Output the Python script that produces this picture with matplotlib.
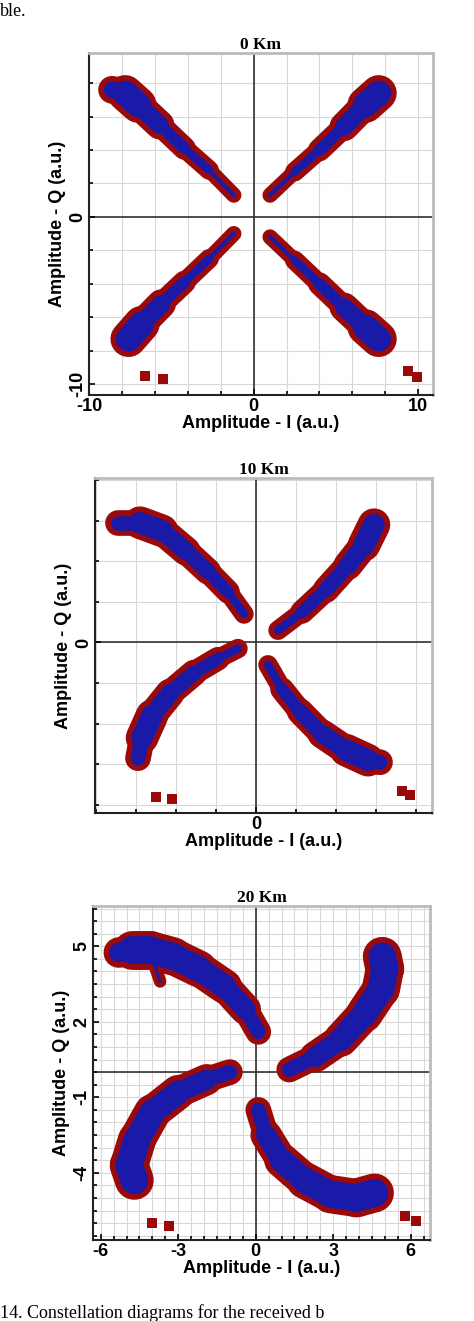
import matplotlib
matplotlib.use("Agg")
import matplotlib.pyplot as plt
import numpy as np

RED = "#9b0a0a"
BLUE = "#1a1aa8"

# ---- Panel 1 (0 Km) arm centerlines ----
p1_ur_x = [1.0, 2.5, 4.0, 5.5, 6.8, 7.6]
p1_ur_y = [1.3, 2.7, 4.0, 5.4, 6.7, 7.4]
p1_ul_x = [-1.2, -2.7, -4.2, -5.7, -7.0, -7.8, -8.6]
p1_ul_y = [1.3, 2.8, 4.1, 5.5, 6.7, 7.4, 7.6]
p1_ll_x = [-1.2, -2.7, -4.2, -5.6, -6.8, -7.6]
p1_ll_y = [-1.0, -2.5, -3.9, -5.2, -6.4, -7.3]
p1_lr_x = [1.0, 2.5, 4.0, 5.5, 6.8, 7.6]
p1_lr_y = [-1.2, -2.6, -4.0, -5.4, -6.6, -7.3]
p1_w = [9, 13, 15, 18, 24, 28, 12]
p1_out_x = [-6.6, -5.5, 9.4, 9.9]
p1_out_y = [-9.5, -9.7, -9.2, -9.6]

# ---- Panel 2 (10 Km) ----
p2_ur_x = [1.1, 2.3, 3.5, 4.6, 5.4, 5.9]
p2_ur_y = [0.6, 1.5, 2.6, 3.8, 4.8, 5.8]
p2_ul_x = [-0.6, -1.4, -2.4, -3.5, -4.7, -5.8, -6.9]
p2_ul_y = [1.4, 2.5, 3.5, 4.5, 5.5, 5.9, 5.9]
p2_ll_x = [-0.9, -1.9, -3.1, -4.3, -5.2, -5.7, -5.9]
p2_ll_y = [-0.3, -0.8, -1.5, -2.5, -3.6, -4.7, -5.7]
p2_lr_x = [0.6, 1.3, 2.2, 3.3, 4.5, 5.6, 6.2]
p2_lr_y = [-1.1, -2.3, -3.4, -4.5, -5.3, -5.8, -5.9]
p2_w = [12, 16, 18, 20, 22, 25, 12]
p2_out_x = [-5.0, -4.2, 7.3, 7.7]
p2_out_y = [-7.6, -7.7, -7.3, -7.5]

# ---- Panel 3 (20 Km) ----
p3_ur_x = [1.3, 2.3, 3.3, 4.2, 4.85, 5.0, 4.9]
p3_ur_y = [0.1, 0.6, 1.3, 2.3, 3.3, 4.1, 4.6]
p3_ul_x = [0.1, -0.4, -1.2, -2.2, -3.2, -4.1, -4.8, -5.3]
p3_ul_y = [1.6, 2.5, 3.4, 4.1, 4.6, 4.85, 4.85, 4.75]
p3_ll_x = [-1.0, -1.9, -3.0, -4.0, -4.6, -4.9, -4.7]
p3_ll_y = [0.0, -0.3, -0.8, -1.6, -2.7, -3.7, -4.3]
p3_lr_x = [0.1, 0.4, 1.0, 1.9, 2.9, 3.9, 4.6]
p3_lr_y = [-1.5, -2.5, -3.5, -4.3, -4.85, -5.0, -4.8]
p3_w = [16, 21, 24, 26, 27, 28, 28, 16]
p3_spur_x = [-4.0, -3.7]
p3_spur_y = [4.5, 3.6]
p3_out_x = [-4.0, -3.35, 5.8, 6.2]
p3_out_y = [-6.0, -6.1, -5.7, -5.9]

W, H = 474, 1321
fig = plt.figure(figsize=(W/100, H/100), dpi=100)

def arm(ax, xs, ys, ws):
    for col, shrink, z in ((RED, 0, 3), (BLUE, 8, 4)):
        for i in range(len(xs)-1):
            w = max((ws[i] + ws[i+1]) / 2 - shrink, 2)
            ax.plot(xs[i:i+2], ys[i:i+2], color=col, lw=w,
                    solid_capstyle="round", zorder=z)

def panel(rect, title, xlim, ylim, arms, ws, ox, oy, grid_step, major_step,
          xt, yt, extra=None):
    ax = fig.add_axes(rect)
    ax.set_xlim(*xlim); ax.set_ylim(*ylim)
    gx = np.arange(np.ceil(xlim[0]/grid_step)*grid_step, xlim[1], grid_step)
    gy = np.arange(np.ceil(ylim[0]/grid_step)*grid_step, ylim[1], grid_step)
    for g in gx:
        ax.axvline(g, color="#d8d8d8", lw=0.8, zorder=0)
    for g in gy:
        ax.axhline(g, color="#d8d8d8", lw=0.8, zorder=0)
    ax.axhline(0, color="#333333", lw=1.2, zorder=1)
    ax.axvline(0, color="#333333", lw=1.2, zorder=1)
    mx = np.arange(np.ceil(xlim[0]/major_step)*major_step, xlim[1], major_step)
    my = np.arange(np.ceil(ylim[0]/major_step)*major_step, ylim[1], major_step)
    ax.set_xticks(mx, minor=True); ax.set_yticks(my, minor=True)
    ax.set_xticks(xt); ax.set_yticks(yt)
    ax.set_xticklabels([str(v) for v in xt], fontsize=13, fontweight="bold",
                       family="Liberation Sans")
    ax.set_yticklabels([str(v) for v in yt], fontsize=13, fontweight="bold",
                       family="Liberation Sans", rotation=90, va="center")
    ax.tick_params(which="both", direction="in", length=3, width=1.2, pad=2)
    ax.tick_params(which="major", length=4)
    for a in arms:
        arm(ax, a[0], a[1], ws)
    if extra:
        arm(ax, extra[0], extra[1], [9, 9])
    ax.scatter(ox, oy, marker="s", s=55, color=RED, zorder=5, linewidths=0)
    for s in ("top", "right"):
        ax.spines[s].set_color("#bbbbbb"); ax.spines[s].set_linewidth(2)
    for s in ("bottom", "left"):
        ax.spines[s].set_color("#222222"); ax.spines[s].set_linewidth(1.5)
    ax.set_title(title, fontsize=12.5, fontweight="bold", family="Liberation Serif",
                 pad=1)
    ax.set_xlabel("Amplitude - I (a.u.)", fontsize=13, fontweight="bold",
                  family="Liberation Sans", labelpad=0)
    ax.set_ylabel("Amplitude - Q (a.u.)", fontsize=13, fontweight="bold",
                  family="Liberation Sans", labelpad=2)
    return ax

panel([89/W, 1-395/H, 344/W, 342/H], "0 Km", (-10, 10.9), (-10.65, 9.8),
      [(p1_ur_x, p1_ur_y), (p1_ul_x, p1_ul_y), (p1_ll_x, p1_ll_y), (p1_lr_x, p1_lr_y)],
      p1_w, p1_out_x, p1_out_y, 2, 2, [-10, 0, 10], [0, -10])
panel([95/W, 1-813/H, 337/W, 335/H], "10 Km", (-8.05, 8.8), (-8.4, 8.1),
      [(p2_ur_x, p2_ur_y), (p2_ul_x, p2_ul_y), (p2_ll_x, p2_ll_y), (p2_lr_x, p2_lr_y)],
      p2_w, p2_out_x, p2_out_y, 2, 2, [0], [0])
panel([93/W, 1-1240/H, 337/W, 334/H], "20 Km", (-6.3, 6.75), (-6.67, 6.6),
      [(p3_ur_x, p3_ur_y), (p3_ul_x, p3_ul_y), (p3_ll_x, p3_ll_y), (p3_lr_x, p3_lr_y)],
      p3_w, p3_out_x, p3_out_y, 0.5, 0.5, [-6, -3, 0, 3, 6], [5, 2, -1, -4],
      extra=(p3_spur_x, p3_spur_y))

fig.text(0.0, 1-12/H, "ble.", fontsize=13, family="Liberation Serif", va="center")
fig.text(0.0, 1-1313/H, "14. Constellation diagrams for the received b",
         fontsize=13, family="Liberation Serif", va="center")
fig.savefig("out.png", dpi=100)
